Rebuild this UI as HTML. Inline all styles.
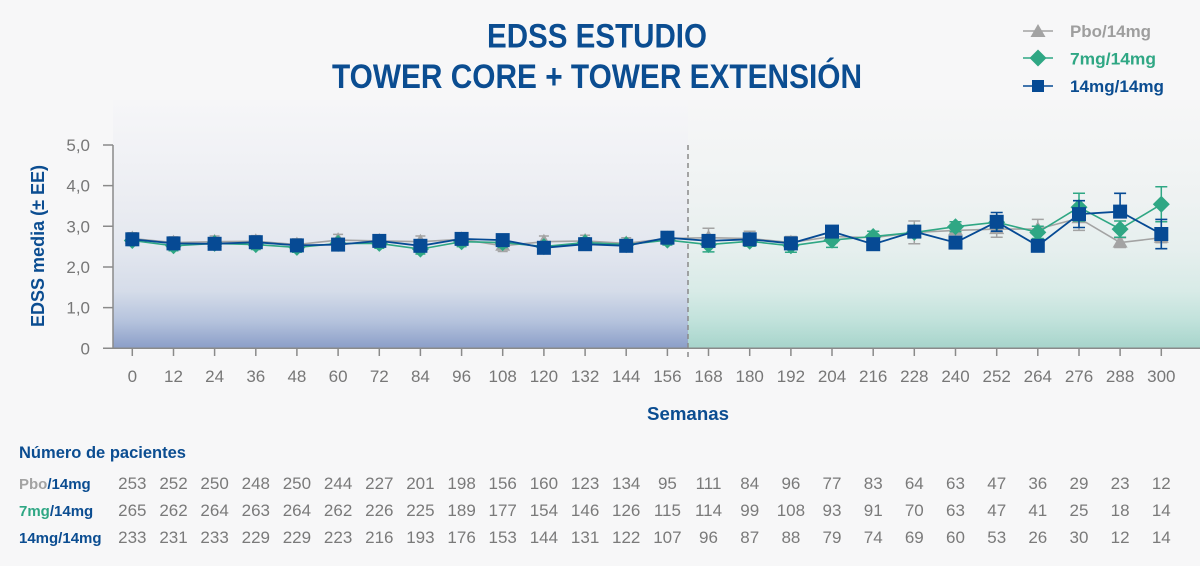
<!DOCTYPE html>
<html>
<head>
<meta charset="utf-8">
<style>
  html,body{margin:0;padding:0;background:#f7f7f8;}
  svg{display:block;}
  text{font-family:"Liberation Sans",sans-serif;}
</style>
</head>
<body>
<svg width="1200" height="566" viewBox="0 0 1200 566" xmlns="http://www.w3.org/2000/svg">
  <defs>
    <linearGradient id="gl" x1="0" y1="0" x2="0" y2="1">
      <stop offset="0" stop-color="#f6f6f8"/>
      <stop offset="0.24" stop-color="#f0f1f5"/>
      <stop offset="0.4" stop-color="#ebedf2"/>
      <stop offset="0.6" stop-color="#e3e7ef"/>
      <stop offset="0.77" stop-color="#d5dce9"/>
      <stop offset="0.89" stop-color="#b5c3dd"/>
      <stop offset="1" stop-color="#8b9ec8"/>
    </linearGradient>
    <linearGradient id="gr" x1="0" y1="0" x2="0" y2="1">
      <stop offset="0" stop-color="#f6f6f7"/>
      <stop offset="0.24" stop-color="#f2f4f4"/>
      <stop offset="0.4" stop-color="#eef2f2"/>
      <stop offset="0.6" stop-color="#e6efee"/>
      <stop offset="0.77" stop-color="#d8ebe7"/>
      <stop offset="0.89" stop-color="#c1e2db"/>
      <stop offset="1" stop-color="#a6d4cb"/>
    </linearGradient>
    <path id="tri" d="M0,-8 L7.5,5 L-7.5,5Z" fill="#a3a3a3"/>
    <path id="dia" d="M0,-8.5 L8.5,0 L0,8.5 L-8.5,0Z" fill="#2fa784"/>
    <rect id="sq" x="-7" y="-7" width="14" height="14" fill="#064a94"/>
  </defs>

  <!-- Plot backgrounds -->
  <rect x="113" y="100" width="575" height="248.3" fill="url(#gl)"/>
  <rect x="688" y="100" width="512" height="248.3" fill="url(#gr)"/>

  <!-- Title -->
  <text x="597" y="47.5" text-anchor="middle" font-size="34" font-weight="bold" fill="#0b4d91" textLength="220" lengthAdjust="spacingAndGlyphs">EDSS ESTUDIO</text>
  <text x="597" y="88" text-anchor="middle" font-size="34" font-weight="bold" fill="#0b4d91" textLength="530" lengthAdjust="spacingAndGlyphs">TOWER CORE + TOWER EXTENSIÓN</text>

  <!-- Legend -->
  <line x1="1023" y1="31" x2="1053" y2="31" stroke="#a3a3a3" stroke-width="1.5"/>
  <path d="M1038,24 L1045.5,37 L1030.5,37Z" fill="#a3a3a3"/>
  <line x1="1023" y1="58" x2="1053" y2="58" stroke="#2fa784" stroke-width="1.5"/>
  <path d="M1038,49.5 L1046.5,58 L1038,66.5 L1029.5,58Z" fill="#2fa784"/>
  <line x1="1023" y1="86" x2="1053" y2="86" stroke="#064a94" stroke-width="1.5"/>
  <rect x="1032" y="80" width="12" height="12" fill="#064a94"/>
  <text x="1070" y="37" font-size="17" font-weight="bold" fill="#9e9e9e" textLength="81" lengthAdjust="spacingAndGlyphs">Pbo/14mg</text>
  <text x="1070" y="64.5" font-size="17" font-weight="bold" fill="#2fa784" textLength="86" lengthAdjust="spacingAndGlyphs">7mg/14mg</text>
  <text x="1070" y="92" font-size="17" font-weight="bold" fill="#0b4d91" textLength="94" lengthAdjust="spacingAndGlyphs">14mg/14mg</text>

  <!-- Dashed separator -->
  <line x1="688" y1="145" x2="688" y2="358" stroke="#8a8a8a" stroke-width="1.5" stroke-dasharray="5,4"/>

  <!-- Axes -->
  <line x1="113" y1="145" x2="113" y2="349" stroke="#8a8a8a" stroke-width="1.5"/>
  <line x1="112" y1="348.3" x2="1200" y2="348.3" stroke="#8a8a8a" stroke-width="1.5"/>
  <path d="M103,145 H113 M103,185.6 H113 M103,226.3 H113 M103,267 H113 M103,307.6 H113 M103,348.3 H113" stroke="#8a8a8a" stroke-width="1.5"/>
  <path d="M132.3,348 V356 M173.5,348 V356 M214.6,348 V356 M255.8,348 V356 M296.9,348 V356 M338.1,348 V356 M379.3,348 V356 M420.4,348 V356 M461.6,348 V356 M502.7,348 V356 M543.9,348 V356 M585.1,348 V356 M626.2,348 V356 M667.4,348 V356 M708.5,348 V356 M749.7,348 V356 M790.9,348 V356 M832,348 V356 M873.2,348 V356 M914.3,348 V356 M955.5,348 V356 M996.7,348 V356 M1037.8,348 V356 M1079,348 V356 M1120.1,348 V356 M1161.3,348 V356" stroke="#8a8a8a" stroke-width="1.5"/>

  <!-- Y tick labels -->
  <g font-size="17" fill="#777" text-anchor="end">
    <text x="90" y="151">5,0</text>
    <text x="90" y="191.6">4,0</text>
    <text x="90" y="232.3">3,0</text>
    <text x="90" y="273">2,0</text>
    <text x="90" y="313.6">1,0</text>
    <text x="90" y="354.3">0</text>
  </g>

  <!-- Y axis title -->
  <text transform="translate(44,246) rotate(-90)" text-anchor="middle" font-size="18" font-weight="bold" fill="#0b4d91" textLength="162" lengthAdjust="spacingAndGlyphs">EDSS media (± EE)</text>

  <!-- X tick labels -->
  <text y="382" font-size="17" fill="#777" text-anchor="middle"><tspan x="132.3">0</tspan><tspan x="173.5">12</tspan><tspan x="214.6">24</tspan><tspan x="255.8">36</tspan><tspan x="296.9">48</tspan><tspan x="338.1">60</tspan><tspan x="379.3">72</tspan><tspan x="420.4">84</tspan><tspan x="461.6">96</tspan><tspan x="502.7">108</tspan><tspan x="543.9">120</tspan><tspan x="585.1">132</tspan><tspan x="626.2">144</tspan><tspan x="667.4">156</tspan><tspan x="708.5">168</tspan><tspan x="749.7">180</tspan><tspan x="790.9">192</tspan><tspan x="832">204</tspan><tspan x="873.2">216</tspan><tspan x="914.3">228</tspan><tspan x="955.5">240</tspan><tspan x="996.7">252</tspan><tspan x="1037.8">264</tspan><tspan x="1079">276</tspan><tspan x="1120.1">288</tspan><tspan x="1161.3">300</tspan></text>

  <!-- X axis title -->
  <text x="688" y="420" text-anchor="middle" font-size="18" font-weight="bold" fill="#0b4d91" textLength="82" lengthAdjust="spacingAndGlyphs">Semanas</text>

  <!-- Grey series -->
  <path fill="none" stroke="#a3a3a3" stroke-width="1.5" d="M132.3,232.8V244.2M127.3,232.8h10M127.3,244.2h10 M173.5,236.9V248.3M168.5,236.9h10M168.5,248.3h10 M214.6,236V247.4M209.6,236h10M209.6,247.4h10 M255.8,235.6V247M250.8,235.6h10M250.8,247h10 M296.9,238.9V250.3M291.9,238.9h10M291.9,250.3h10 M338.1,234.4V245.8M333.1,234.4h10M333.1,245.8h10 M379.3,235.2V246.6M374.3,235.2h10M374.3,246.6h10 M420.4,236V247.4M415.4,236h10M415.4,247.4h10 M461.6,233.6V245M456.6,233.6h10M456.6,245h10 M502.7,240.1V251.5M497.7,240.1h10M497.7,251.5h10 M543.9,236V247.4M538.9,236h10M538.9,247.4h10 M585.1,235.2V246.6M580.1,235.2h10M580.1,246.6h10 M626.2,237.7V249.1M621.2,237.7h10M621.2,249.1h10 M667.4,232.8V244.2M662.4,232.8h10M662.4,244.2h10 M708.5,228.3V247M702.5,228.3h12M702.5,247h12 M749.7,231.2V245.8M743.7,231.2h12M743.7,245.8h12 M790.9,236.5V248.7M784.9,236.5h12M784.9,248.7h12 M832,230.4V242.6M826,230.4h12M826,242.6h12 M873.2,231.2V244.2M867.2,231.2h12M867.2,244.2h12 M914.3,221V243.8M908.3,221h12M908.3,243.8h12 M955.5,224.3V236.5M949.5,224.3h12M949.5,236.5h12 M996.7,221V237.3M990.7,221h12M990.7,237.3h12 M1037.8,219.4V238.9M1031.8,219.4h12M1031.8,238.9h12 M1079,206V230.4M1073,206h12M1073,230.4h12 M1120.1,237.7V247.5M1114.1,237.7h12M1114.1,247.5h12 M1161.3,232.8V242.6M1155.3,232.8h12M1155.3,242.6h12"/>
  <polyline fill="none" stroke="#a3a3a3" stroke-width="1.6" points="132.3,238.5 173.5,242.6 214.6,241.7 255.8,241.3 296.9,244.6 338.1,240.1 379.3,240.9 420.4,241.7 461.6,239.3 502.7,245.8 543.9,241.7 585.1,240.9 626.2,243.4 667.4,238.5 708.5,237.7 749.7,238.5 790.9,242.6 832,236.5 873.2,237.7 914.3,232.4 955.5,230.4 996.7,229.1 1037.8,229.1 1079,218.2 1120.1,242.6 1161.3,237.7"/>
  <g>
    <use href="#tri" x="132.3" y="238.5"/><use href="#tri" x="173.5" y="242.6"/><use href="#tri" x="214.6" y="241.7"/><use href="#tri" x="255.8" y="241.3"/><use href="#tri" x="296.9" y="244.6"/><use href="#tri" x="338.1" y="240.1"/><use href="#tri" x="379.3" y="240.9"/><use href="#tri" x="420.4" y="241.7"/><use href="#tri" x="461.6" y="239.3"/><use href="#tri" x="502.7" y="245.8"/><use href="#tri" x="543.9" y="241.7"/><use href="#tri" x="585.1" y="240.9"/><use href="#tri" x="626.2" y="243.4"/><use href="#tri" x="667.4" y="238.5"/><use href="#tri" x="708.5" y="237.7"/><use href="#tri" x="749.7" y="238.5"/><use href="#tri" x="790.9" y="242.6"/><use href="#tri" x="832" y="236.5"/><use href="#tri" x="873.2" y="237.7"/><use href="#tri" x="914.3" y="232.4"/><use href="#tri" x="955.5" y="230.4"/><use href="#tri" x="996.7" y="229.1"/><use href="#tri" x="1037.8" y="229.1"/><use href="#tri" x="1079" y="218.2"/><use href="#tri" x="1120.1" y="242.6"/><use href="#tri" x="1161.3" y="237.7"/>
  </g>

  <!-- Green series -->
  <path fill="none" stroke="#2fa784" stroke-width="1.5" d="M132.3,235.6V245.4M127.3,235.6h10M127.3,245.4h10 M173.5,240.9V250.7M168.5,240.9h10M168.5,250.7h10 M214.6,238.5V248.3M209.6,238.5h10M209.6,248.3h10 M255.8,239.7V249.5M250.8,239.7h10M250.8,249.5h10 M296.9,242.5V252.3M291.9,242.5h10M291.9,252.3h10 M338.1,238.5V248.3M333.1,238.5h10M333.1,248.3h10 M379.3,238.5V248.3M374.3,238.5h10M374.3,248.3h10 M420.4,244.2V254M415.4,244.2h10M415.4,254h10 M461.6,236.8V246.6M456.6,236.8h10M456.6,246.6h10 M502.7,237.7V247.5M497.7,237.7h10M497.7,247.5h10 M543.9,241.7V251.5M538.9,241.7h10M538.9,251.5h10 M585.1,237.7V247.5M580.1,237.7h10M580.1,247.5h10 M626.2,239.7V249.5M621.2,239.7h10M621.2,249.5h10 M667.4,235.2V245M662.4,235.2h10M662.4,245h10 M708.5,237.3V251.9M702.5,237.3h12M702.5,251.9h12 M749.7,236.5V246.2M743.7,236.5h12M743.7,246.2h12 M790.9,239.3V252.3M784.9,239.3h12M784.9,252.3h12 M832,232.8V247.4M826,232.8h12M826,247.4h12 M873.2,231.2V241.7M867.2,231.2h12M867.2,241.7h12 M914.3,227.5V237.3M908.3,227.5h12M908.3,237.3h12 M955.5,221.8V231.6M949.5,221.8h12M949.5,231.6h12 M996.7,217.3V227.1M990.7,217.3h12M990.7,227.1h12 M1037.8,226.3V238.5M1031.8,226.3h12M1031.8,238.5h12 M1079,193.3V221M1073,193.3h12M1073,221h12 M1120.1,221V237.3M1114.1,221h12M1114.1,237.3h12 M1161.3,186.8V221.8M1155.3,186.8h12M1155.3,221.8h12"/>
  <polyline fill="none" stroke="#2fa784" stroke-width="1.6" points="132.3,240.5 173.5,245.8 214.6,243.4 255.8,244.6 296.9,247.4 338.1,243.4 379.3,243.4 420.4,249.1 461.6,241.7 502.7,242.6 543.9,246.6 585.1,242.6 626.2,244.6 667.4,240.1 708.5,244.6 749.7,241.3 790.9,245.8 832,240.1 873.2,236.5 914.3,232.4 955.5,226.7 996.7,222.2 1037.8,232.4 1079,207.2 1120.1,229.1 1161.3,204.3"/>
  <g>
    <use href="#dia" x="132.3" y="240.5"/><use href="#dia" x="173.5" y="245.8"/><use href="#dia" x="214.6" y="243.4"/><use href="#dia" x="255.8" y="244.6"/><use href="#dia" x="296.9" y="247.4"/><use href="#dia" x="338.1" y="243.4"/><use href="#dia" x="379.3" y="243.4"/><use href="#dia" x="420.4" y="249.1"/><use href="#dia" x="461.6" y="241.7"/><use href="#dia" x="502.7" y="242.6"/><use href="#dia" x="543.9" y="246.6"/><use href="#dia" x="585.1" y="242.6"/><use href="#dia" x="626.2" y="244.6"/><use href="#dia" x="667.4" y="240.1"/><use href="#dia" x="708.5" y="244.6"/><use href="#dia" x="749.7" y="241.3"/><use href="#dia" x="790.9" y="245.8"/><use href="#dia" x="832" y="240.1"/><use href="#dia" x="873.2" y="236.5"/><use href="#dia" x="914.3" y="232.4"/><use href="#dia" x="955.5" y="226.7"/><use href="#dia" x="996.7" y="222.2"/><use href="#dia" x="1037.8" y="232.4"/><use href="#dia" x="1079" y="207.2"/><use href="#dia" x="1120.1" y="229.1"/><use href="#dia" x="1161.3" y="204.3"/>
  </g>

  <!-- Blue series -->
  <path fill="none" stroke="#064a94" stroke-width="1.6" d="M996.7,212.5V231.2M990.7,212.5h12M990.7,231.2h12 M1079,200.7V227.5M1073,200.7h12M1073,227.5h12 M1120.1,193.3V212M1114.1,193.3h12 M1161.3,219.4V248.7M1155.3,219.4h12M1155.3,248.7h12"/>
  <polyline fill="none" stroke="#064a94" stroke-width="1.8" points="132.3,239.3 173.5,243.4 214.6,243.8 255.8,242.2 296.9,245.4 338.1,244.6 379.3,240.9 420.4,245.8 461.6,238.9 502.7,240.1 543.9,247.8 585.1,244.2 626.2,245.8 667.4,237.7 708.5,240.9 749.7,239.3 790.9,243.4 832,231.6 873.2,244.2 914.3,231.6 955.5,242.6 996.7,221.8 1037.8,245.8 1079,214.1 1120.1,211.6 1161.3,234"/>
  <g>
    <use href="#sq" x="132.3" y="239.3"/><use href="#sq" x="173.5" y="243.4"/><use href="#sq" x="214.6" y="243.8"/><use href="#sq" x="255.8" y="242.2"/><use href="#sq" x="296.9" y="245.4"/><use href="#sq" x="338.1" y="244.6"/><use href="#sq" x="379.3" y="240.9"/><use href="#sq" x="420.4" y="245.8"/><use href="#sq" x="461.6" y="238.9"/><use href="#sq" x="502.7" y="240.1"/><use href="#sq" x="543.9" y="247.8"/><use href="#sq" x="585.1" y="244.2"/><use href="#sq" x="626.2" y="245.8"/><use href="#sq" x="667.4" y="237.7"/><use href="#sq" x="708.5" y="240.9"/><use href="#sq" x="749.7" y="239.3"/><use href="#sq" x="790.9" y="243.4"/><use href="#sq" x="832" y="231.6"/><use href="#sq" x="873.2" y="244.2"/><use href="#sq" x="914.3" y="231.6"/><use href="#sq" x="955.5" y="242.6"/><use href="#sq" x="996.7" y="221.8"/><use href="#sq" x="1037.8" y="245.8"/><use href="#sq" x="1079" y="214.1"/><use href="#sq" x="1120.1" y="211.6"/><use href="#sq" x="1161.3" y="234"/>
  </g>

  <!-- Patient table -->
  <text x="19" y="458" font-size="17" font-weight="bold" fill="#0b4d91" textLength="167" lengthAdjust="spacingAndGlyphs">Número de pacientes</text>

  <text x="19" y="489" font-size="15" font-weight="bold"><tspan fill="#a3a3a3">Pbo</tspan><tspan fill="#0b4d91">/14mg</tspan></text>
  <text x="19" y="516" font-size="15" font-weight="bold"><tspan fill="#2fa784">7mg</tspan><tspan fill="#0b4d91">/14mg</tspan></text>
  <text x="19" y="543" font-size="15" font-weight="bold" fill="#0b4d91">14mg/14mg</text>

  <g font-size="17" fill="#7a7a7a" text-anchor="middle">
    <text y="489"><tspan x="132.3">253</tspan><tspan x="173.5">252</tspan><tspan x="214.6">250</tspan><tspan x="255.8">248</tspan><tspan x="296.9">250</tspan><tspan x="338.1">244</tspan><tspan x="379.3">227</tspan><tspan x="420.4">201</tspan><tspan x="461.6">198</tspan><tspan x="502.7">156</tspan><tspan x="543.9">160</tspan><tspan x="585.1">123</tspan><tspan x="626.2">134</tspan><tspan x="667.4">95</tspan><tspan x="708.5">111</tspan><tspan x="749.7">84</tspan><tspan x="790.9">96</tspan><tspan x="832">77</tspan><tspan x="873.2">83</tspan><tspan x="914.3">64</tspan><tspan x="955.5">63</tspan><tspan x="996.7">47</tspan><tspan x="1037.8">36</tspan><tspan x="1079">29</tspan><tspan x="1120.1">23</tspan><tspan x="1161.3">12</tspan></text>
    <text y="516"><tspan x="132.3">265</tspan><tspan x="173.5">262</tspan><tspan x="214.6">264</tspan><tspan x="255.8">263</tspan><tspan x="296.9">264</tspan><tspan x="338.1">262</tspan><tspan x="379.3">226</tspan><tspan x="420.4">225</tspan><tspan x="461.6">189</tspan><tspan x="502.7">177</tspan><tspan x="543.9">154</tspan><tspan x="585.1">146</tspan><tspan x="626.2">126</tspan><tspan x="667.4">115</tspan><tspan x="708.5">114</tspan><tspan x="749.7">99</tspan><tspan x="790.9">108</tspan><tspan x="832">93</tspan><tspan x="873.2">91</tspan><tspan x="914.3">70</tspan><tspan x="955.5">63</tspan><tspan x="996.7">47</tspan><tspan x="1037.8">41</tspan><tspan x="1079">25</tspan><tspan x="1120.1">18</tspan><tspan x="1161.3">14</tspan></text>
    <text y="543"><tspan x="132.3">233</tspan><tspan x="173.5">231</tspan><tspan x="214.6">233</tspan><tspan x="255.8">229</tspan><tspan x="296.9">229</tspan><tspan x="338.1">223</tspan><tspan x="379.3">216</tspan><tspan x="420.4">193</tspan><tspan x="461.6">176</tspan><tspan x="502.7">153</tspan><tspan x="543.9">144</tspan><tspan x="585.1">131</tspan><tspan x="626.2">122</tspan><tspan x="667.4">107</tspan><tspan x="708.5">96</tspan><tspan x="749.7">87</tspan><tspan x="790.9">88</tspan><tspan x="832">79</tspan><tspan x="873.2">74</tspan><tspan x="914.3">69</tspan><tspan x="955.5">60</tspan><tspan x="996.7">53</tspan><tspan x="1037.8">26</tspan><tspan x="1079">30</tspan><tspan x="1120.1">12</tspan><tspan x="1161.3">14</tspan></text>
  </g>
</svg>
</body>
</html>
